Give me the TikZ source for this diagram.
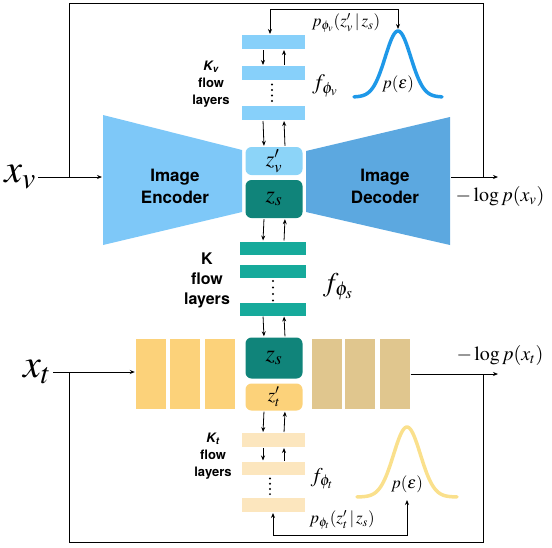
\documentclass[tikz,border=0pt]{standalone}
\usepackage{mathptmx}
\usepackage{fontspec}
\setmainfont{Liberation Serif}
\setsansfont{TeX Gyre Heros}
\usetikzlibrary{arrows.meta,positioning}

\definecolor{encblue}{RGB}{126,200,248}
\definecolor{decblue}{RGB}{92,168,224}
\definecolor{flowblue}{RGB}{135,208,250}
\definecolor{latblue}{RGB}{140,212,248}
\definecolor{gaussblue}{RGB}{30,152,232}
\definecolor{zsteal}{RGB}{16,132,122}
\definecolor{flowteal}{RGB}{22,170,155}
\definecolor{txtorange}{RGB}{252,210,122}
\definecolor{txttan}{RGB}{224,198,142}
\definecolor{flowbeige}{RGB}{252,230,190}
\definecolor{gaussyellow}{RGB}{250,224,140}

\tikzset{
  >={Stealth[length=5pt,width=4pt]},
  frame/.style={line width=0.9pt},
  link/.style={line width=0.8pt, shorten <=1pt, shorten >=1pt},
  flow/.style={minimum width=63pt, inner sep=0pt, outer sep=0pt},
  vlayer/.style={flow, fill=flowblue, minimum height=14pt},
  slayer/.style={flow, fill=flowteal, minimum width=66pt, minimum height=13pt},
  tlayer/.style={flow, fill=flowbeige, minimum height=14pt},
  latent/.style={rounded corners=6pt, minimum width=57pt, inner sep=0pt,
    font=\fontsize{22}{22}\selectfont},
  column/.style={minimum width=30pt, minimum height=70pt, inner sep=0pt},
  flowtxt/.style={align=center, font=\sffamily\bfseries\fontsize{13}{17}\selectfont},
  blocktxt/.style={align=center, font=\sffamily\bfseries\fontsize{17}{22}\selectfont},
  gauss/.style={line width=3.5pt, line cap=round},
  lbl/.style={inner sep=1pt},
  big/.style={inner sep=1pt, font=\fontsize{40}{40}\selectfont},
}

\begin{document}
\begin{tikzpicture}[x=1pt, y=-1pt]
  \useasboundingbox (0,0) rectangle (552,547);

  % image branch
  \fill[encblue] (103,115) -- (242,150) -- (242,212) -- (103,245) -- cycle;
  \fill[decblue] (306,151) -- (450,117) -- (450,245) -- (306,212) -- cycle;
  \coordinate (encin) at (103,177);
  \coordinate (decout) at (450,177);
  \coordinate (vend) at (499,177);
  \node[blocktxt] (enc) at (175,186) {Image\\Encoder};
  \node[blocktxt] (dec) at (385,186) {Image\\Decoder};

  \node[vlayer] (v1) at (273,42) {};
  \node[vlayer] (v2) at (273,73) {};
  \node[vlayer] (v3) at (273,113) {};
  \node[latent, fill=latblue, minimum height=28pt] (zv) at (274,161) {$z'_v$};
  \node[latent, fill=zsteal, minimum height=38pt,
    font=\fontsize{24}{24}\selectfont] (zs) at (274,199) {$z_s$};

  % shared flow
  \node[slayer] (s1) at (273,248) {};
  \node[slayer] (s2) at (273,271) {};
  \node[slayer] (s3) at (273,309) {};

  % text branch
  \foreach \n/\x in {o1/151, o2/185, o3/219.5}
    \node[column, fill=txtorange] (\n) at (\x,374) {};
  \foreach \n/\x in {d1/326.5, d2/359.5, d3/394.5}
    \node[column, fill=txttan] (\n) at (\x,374) {};
  \node[latent, fill=zsteal, minimum height=41pt,
    font=\fontsize{24}{24}\selectfont] (zs2) at (274,358) {$z_s$};
  \node[latent, fill=txtorange, minimum height=27pt,
    font=\fontsize{19}{19}\selectfont] (zt) at (274,397) {$z'_t$};
  \coordinate (tout) at (499,374);

  \node[tlayer] (t1) at (273,440) {};
  \node[tlayer, minimum height=13pt] (t2) at (273,468) {};
  \node[tlayer] (t3) at (273,505) {};

  % arrows between layers
  \foreach \a/\b in {v1/v2, v3/zv, zs/s1, s3/zs2, zt/t1, t1/t2} {
    \draw[link, ->] ([xshift=-10pt]\a.south) -- ([xshift=-10pt]\b.north);
    \draw[link, ->] ([xshift=11pt]\b.north) -- ([xshift=11pt]\a.south);
  }
  % dots between the last layers
  \foreach \k in {0,...,3} {
    \fill ([xshift=-1pt, yshift=-(4.5+5.5*\k)*1pt]v2.south) circle (1.1pt);
    \fill ([yshift=-(3.5+6.5*\k)*1pt]s2.south) circle (1.1pt);
    \fill ([xshift=-3pt, yshift=-(4+5.2*\k)*1pt]t2.south) circle (1.1pt);
  }

  % priors
  \draw[gauss, gaussblue] plot[domain=-44:44, samples=80, smooth]
    (\x+398, {97-66*exp(-(\x/18)^2)});
  \draw[gauss, gaussyellow] plot[domain=-50:50, samples=80, smooth]
    (\x+407, {497-70*exp(-(\x/19)^2)});
  \coordinate (vpeak) at (398,30);
  \coordinate (tbase) at (407,499);
  \draw[link, <->] ([xshift=-3pt]v1.north) -- ++(0,-26) -| (vpeak);
  \draw[link, <->] (t3.south) -- ++(0,23) -| (tbase);

  % labels
  \node[lbl, font=\fontsize{17}{17}\selectfont] (pv) at (346,23) {$p_{\phi_v}(z'_v\,|\,z_s)$};
  \node[lbl, font=\fontsize{22}{22}\selectfont] (fv) at (325,86) {$f_{\phi_v}$};
  \node[lbl, font=\fontsize{17}{17}\selectfont] (ev) at (398,84) {$p(\epsilon)$};
  \node[flowtxt] (kv) at (211,84) {{\itshape K\textsubscript{v}}\\flow\\layers};
  \node[align=center, font=\sffamily\bfseries\fontsize{16}{20}\selectfont] (ks) at (207,280)
    {K\\flow\\layers};
  \node[lbl, font=\fontsize{27}{27}\selectfont] (fs) at (338,287) {$f_{\phi_s}$};
  \node[flowtxt] (kt) at (213,456) {{\itshape K\textsubscript{t}}\\flow\\layers};
  \node[lbl, font=\fontsize{21}{21}\selectfont] (ft) at (322,479) {$f_{\phi_t}$};
  \node[lbl, font=\fontsize{17}{17}\selectfont] (et) at (407,484) {$p(\epsilon)$};
  \node[lbl, font=\fontsize{17}{17}\selectfont] (pt) at (342,520) {$p_{\phi_t}(z'_t\,|\,z_s)$};

  \node[big, anchor=east] (xv) at (37,177) {$x_v$};
  \node[big, anchor=east] (xt) at (52,372) {$x_t$};
  \node[lbl, font=\fontsize{20}{20}\selectfont] (lv) at (500,196) {$-\log p(x_v)$};
  \node[lbl, font=\fontsize{20}{20}\selectfont] (lt) at (500,355) {$-\log p(x_t)$};

  % input / output arrows and loop frame
  \draw[link, ->] (xv.east) -- (xv.east -| encin);
  \draw[link, ->] (decout) -- (vend);
  \draw[link, ->] (xt.east) -- (xt.east -| o1.west);
  \draw[link, ->] (d3.east) -- (tout);
  \coordinate (ftl) at (69,3);
  \coordinate (fbr) at (483,542);
  \draw[frame] (ftl |- xv.east) -- (ftl) -| (fbr |- vend);
  \draw[frame] (ftl |- xt.east) -- (ftl |- fbr) -| (fbr |- tout);
\end{tikzpicture}
\end{document}
